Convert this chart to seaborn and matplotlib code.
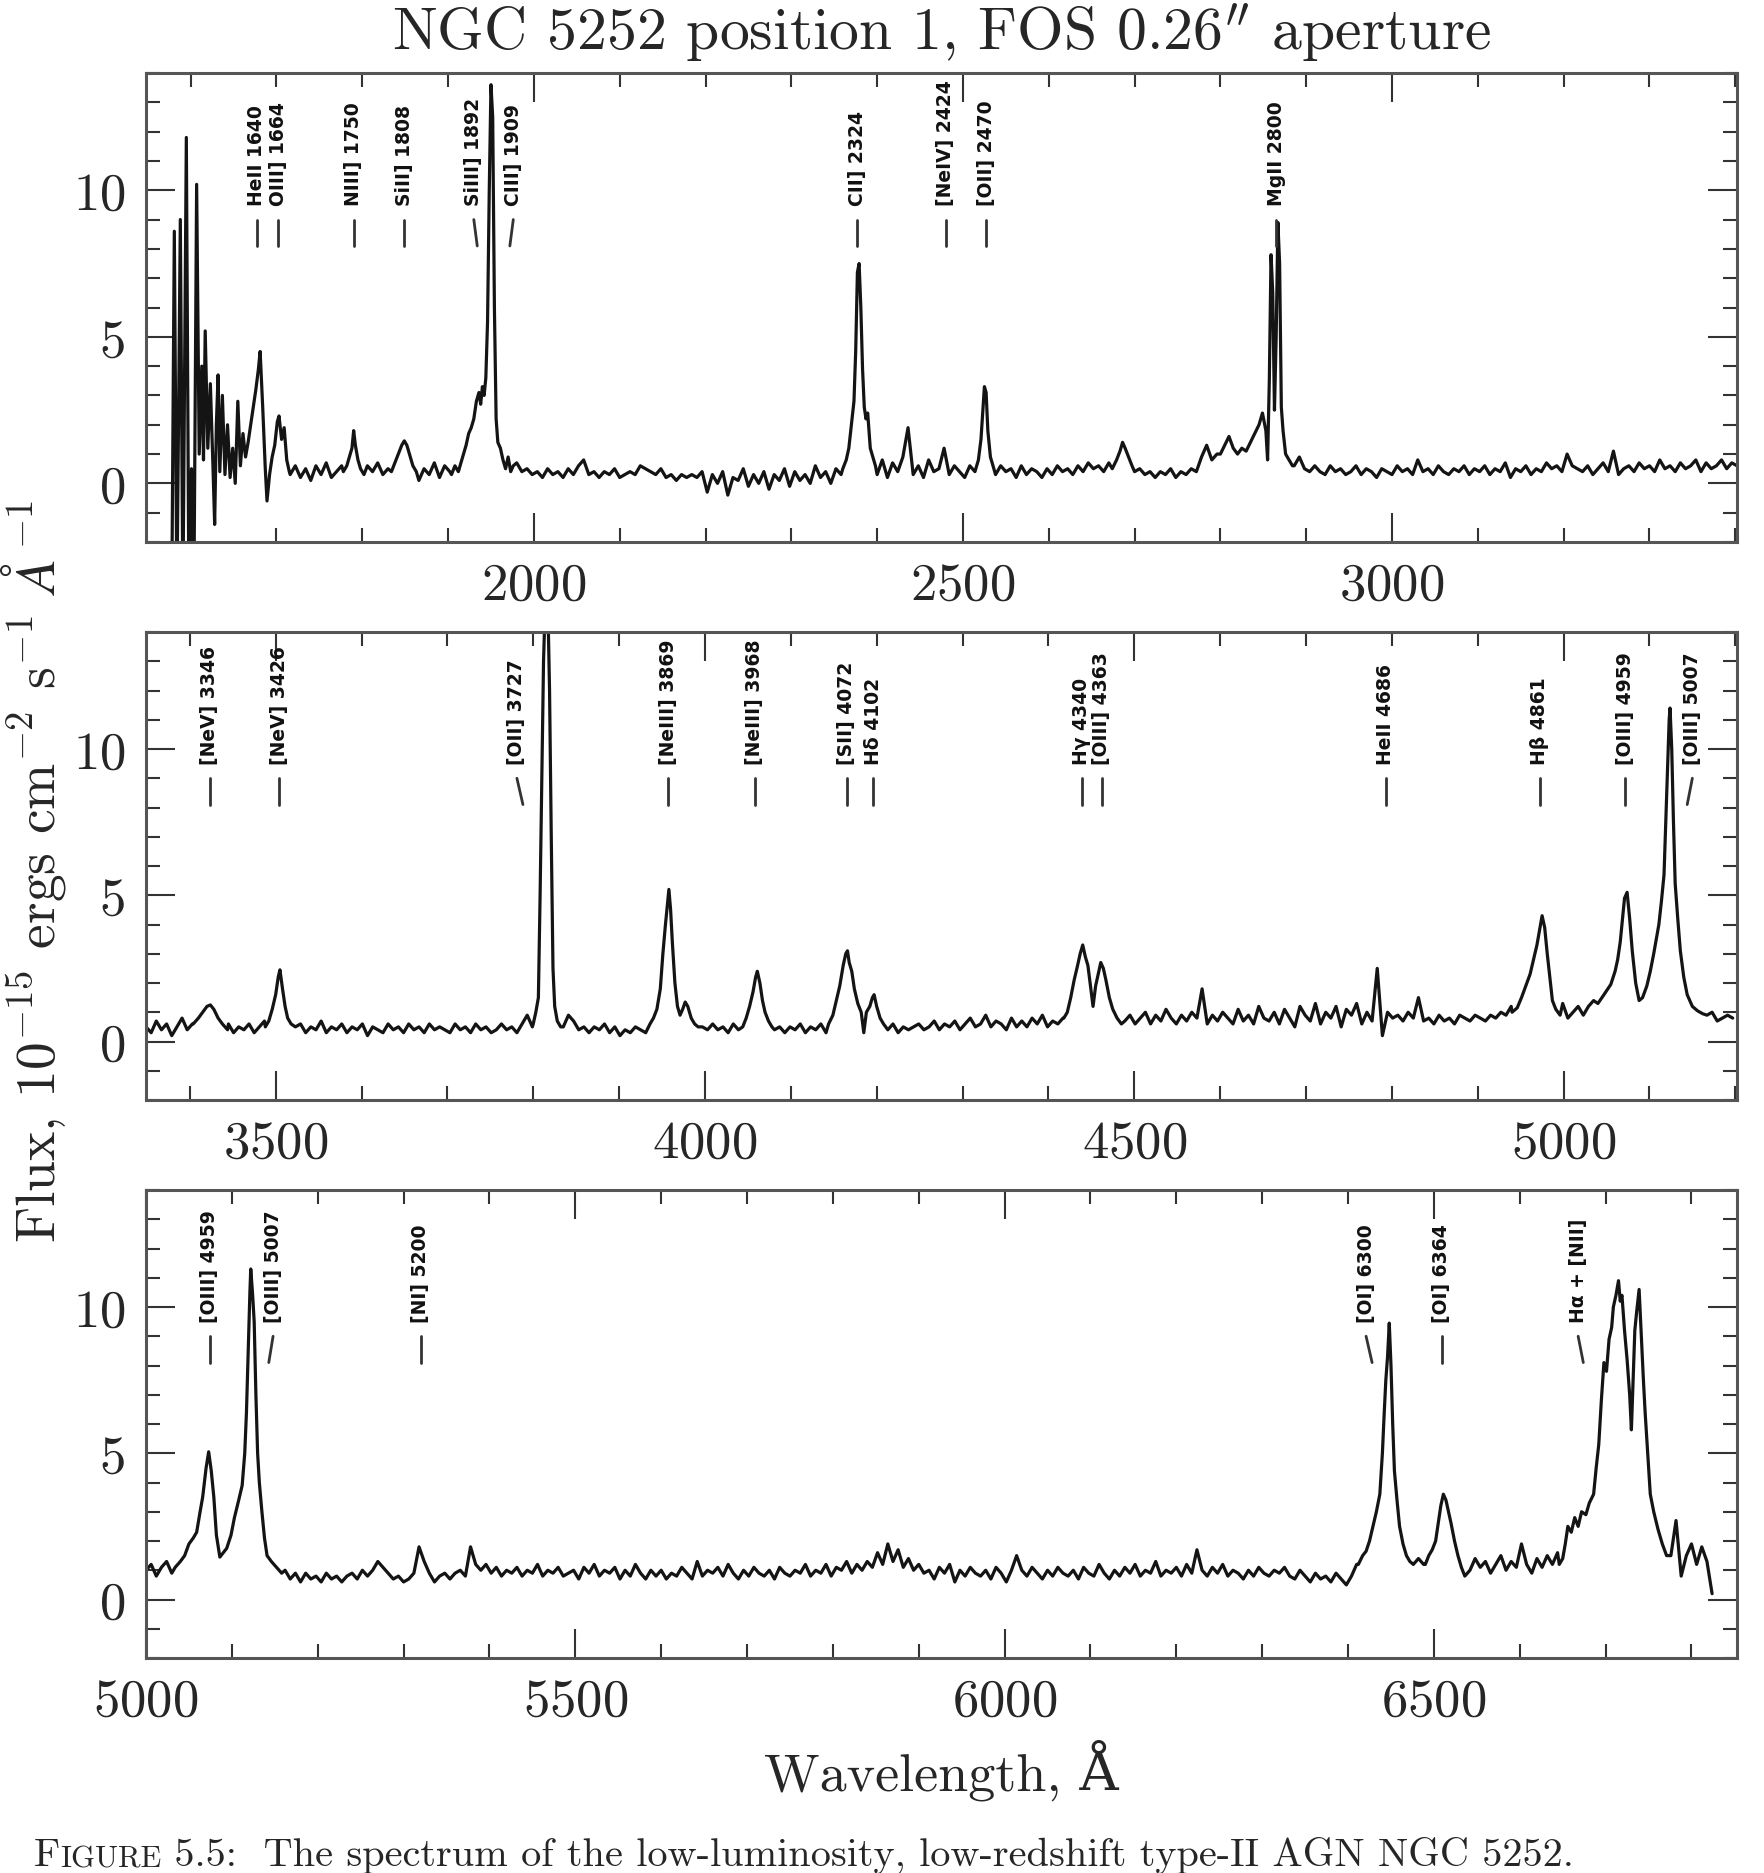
import numpy as np
import seaborn as sns
import matplotlib.pyplot as plt
from matplotlib.ticker import MultipleLocator

# ---------------- panel 1 : 1548 - 3402 A (observed wavelength) ----------------
p1_start, p1_step = 1716, 6
p1_cont = [
    0.3, 0.6, 0.2, 0.5, 0.1, 0.6, 0.3, 0.7, 0.2, 0.4,
    0.6, 0.3, 0.9, 0.5, 0.2, 0.6, 0.4, 0.7, 0.3, 0.5,
    0.4, 0.8, 0.5, 0.2, 0.6, 0.1, 0.5, 0.3, 0.7, 0.2,
    0.6, 0.4, 0.9, 1.2, 1.5, 2.0, 3.0, 3.2, 4.0, 13.0,
    2.0, 1.2, 0.8, 0.6, 0.7, 0.4, 0.5, 0.3, 0.4, 0.2,
    0.5, 0.3, 0.4, 0.2, 0.5, 0.3, 0.6, 0.8, 0.3, 0.4,
    0.2, 0.4, 0.3, 0.5, 0.2, 0.3, 0.4, 0.3, 0.6, 0.5,
    0.4, 0.3, 0.5, 0.2, 0.3, 0.1, 0.3, 0.2, 0.3, 0.2,
    0.4, -0.3, 0.3, 0.0, 0.4, -0.4, 0.2, 0.1, 0.5, -0.1,
    0.3, 0.0, 0.4, -0.2, 0.3, 0.1, 0.5, -0.1, 0.4, 0.1,
    0.3, 0.0, 0.6, 0.2, 0.4, 0.0, 0.5, 0.3, 0.9, 1.0,
    7.0, 2.0, 1.0, 0.6, 0.3, 0.8, 0.2, 0.7, 0.4, 0.9,
    1.9, 0.3, 0.6, 0.2, 0.8, 0.4, 0.5, 1.2, 0.3, 0.6,
    0.4, 0.2, 0.6, 1.0, 3.0, 1.0, 0.5, 0.3, 0.6, 0.4,
    0.5, 0.2, 0.6, 0.3, 0.5, 0.4, 0.2, 0.5, 0.3, 0.6,
    0.4, 0.5, 0.3, 0.6, 0.4, 0.7, 0.5, 0.6, 0.4, 0.7,
    0.9, 1.4, 1.0, 0.6, 0.4, 0.5, 0.3, 0.4, 0.2, 0.4,
    0.3, 0.5, 0.2, 0.4, 0.3, 0.5, 0.4, 0.9, 1.3, 0.8,
    1.0, 0.7, 1.1, 0.9, 1.3, 1.0, 1.5, 1.8, 2.3, 7.8,
    8.0, 8.8, 2.5, 1.0, 0.8, 0.6, 0.9, 0.5, 0.4, 0.6,
    0.4, 0.3, 0.6, 0.4, 0.5, 0.3, 0.4, 0.6, 0.3, 0.5,
    0.4, 0.2, 0.5, 0.4, 0.3, 0.6, 0.4, 0.5, 0.3, 0.8,
    0.4, 0.5, 0.3, 0.6, 0.4, 0.3, 0.5, 0.4, 0.6, 0.3,
    0.5, 0.4, 0.6, 0.3, 0.5, 0.4, 0.7, 0.2, 0.5, 0.4,
    0.6, 0.3, 0.5, 0.4, 0.7, 0.5, 0.6, 0.4, 1.0, 0.6,
    0.5, 0.4, 0.6, 0.3, 0.5, 0.7, 0.4, 1.1, 0.3, 0.5,
    0.6, 0.4, 0.7, 0.5, 0.6, 0.4, 0.8, 0.5, 0.6, 0.4,
    0.7, 0.5, 0.6, 0.8, 0.4, 0.7, 0.5, 0.6, 0.8, 0.5,
    0.7, 0.6,
]
p1_blue_end = [
    (1578, -4.0), (1581, 8.6), (1584, -4.0), (1588, 9.0), (1591, -4.0), (1595, 11.8),
    (1598, -4.0), (1601, 0.5), (1604, -3.0), (1607, 10.2), (1610, 1.0), (1613, 4.0),
    (1615, 0.8), (1617, 5.2), (1620, 1.2), (1623, 3.4), (1626, 0.6), (1628, -1.4),
    (1630, 2.0), (1632, 3.7), (1634, 0.4), (1637, 3.0), (1640, 0.3), (1643, 2.0),
    (1646, 0.2), (1649, 1.2), (1652, 0.0), (1655, 2.8), (1658, 0.6), (1661, 1.7),
    (1664, 0.9), (1667, 1.4), (1670, 2.0), (1673, 2.6), (1676, 3.2), (1679, 3.9),
    (1681, 4.5), (1684, 2.6), (1687, 0.5), (1689, -0.6), (1692, 0.3), (1695, 0.9),
    (1698, 1.3), (1701, 2.1), (1703, 2.3), (1706, 1.5), (1709, 1.9), (1712, 0.8),
    (1715, 0.4),
]
p1_niii = [(1778, 0.4), (1782, 0.6), (1785, 0.9), (1788, 1.2), (1790, 1.8), (1792, 1.3),
           (1795, 0.8), (1798, 0.5), (1802, 0.3)]
p1_siii = [(1834, 0.4), (1838, 0.7), (1842, 1.0), (1846, 1.3), (1849, 1.45), (1852, 1.3),
           (1855, 1.0), (1859, 0.6), (1863, 0.4)]
p1_ciii = [(1904, 0.3), (1908, 0.6), (1912, 0.4), (1915, 0.7), (1918, 1.0), (1921, 1.3),
           (1924, 1.7), (1927, 1.9), (1930, 2.2), (1933, 2.8), (1936, 3.1), (1938, 2.7),
           (1940, 3.3), (1942, 3.0), (1944, 3.6), (1946, 5.5), (1948, 10.0), (1950, 13.6),
           (1952, 12.5), (1954, 6.0), (1956, 2.2), (1958, 1.4), (1961, 1.2), (1964, 0.8),
           (1967, 0.5), (1970, 0.9), (1973, 0.4), (1976, 0.6)]
p1_cii = [(2360, 0.5), (2364, 0.8), (2367, 1.2), (2370, 2.0), (2373, 2.8), (2375, 4.5),
          (2377, 7.2), (2379, 7.5), (2381, 6.0), (2383, 3.9), (2385, 2.6), (2387, 2.2),
          (2389, 2.4), (2392, 1.2), (2395, 0.9), (2398, 0.6)]
p1_oii = [(2514, 0.4), (2518, 0.8), (2521, 1.5), (2523, 2.4), (2525, 3.3), (2527, 3.1),
          (2529, 1.8), (2532, 0.9), (2536, 0.5)]
p1_bump = [(2674, 0.5), (2679, 0.8), (2683, 1.1), (2686, 1.4), (2689, 1.2), (2693, 0.9),
           (2697, 0.6)]
p1_mgii = [(2800, 1.0), (2805, 1.3), (2810, 1.6), (2815, 1.2), (2820, 1.0), (2825, 1.2),
           (2830, 1.1), (2835, 1.4), (2840, 1.7), (2845, 2.0), (2849, 2.4), (2853, 1.8),
           (2855, 0.8), (2857, 3.5), (2859, 7.8), (2861, 6.5), (2863, 2.5), (2865, 5.0),
           (2867, 8.9), (2869, 7.5), (2871, 2.6), (2873, 1.8), (2876, 1.0), (2880, 0.8),
           (2884, 0.6)]

# ---------------- panel 2 : 3349 - 5202 A ----------------
p2_start, p2_step = 3349, 6
p2_cont = [
    0.5, 0.3, 0.7, 0.4, 0.6, 0.2, 0.5, 0.8, 0.4, 0.6,
    0.7, 0.9, 1.2, 1.1, 0.8, 0.5, 0.6, 0.3, 0.5, 0.4,
    0.6, 0.3, 0.5, 0.7, 1.0, 1.5, 2.4, 1.2, 0.7, 0.5,
    0.6, 0.3, 0.5, 0.4, 0.7, 0.3, 0.5, 0.4, 0.6, 0.3,
    0.5, 0.4, 0.6, 0.2, 0.5, 0.4, 0.3, 0.6, 0.4, 0.5,
    0.3, 0.6, 0.4, 0.5, 0.3, 0.6, 0.4, 0.5, 0.4, 0.3,
    0.6, 0.4, 0.5, 0.3, 0.6, 0.4, 0.5, 0.3, 0.4, 0.6,
    0.4, 0.5, 0.3, 0.6, 0.9, 0.5, 0.8, 9.0, 3.0, 1.0,
    0.6, 0.5, 0.9, 0.7, 0.4, 0.5, 0.3, 0.5, 0.4, 0.6,
    0.3, 0.5, 0.2, 0.4, 0.3, 0.5, 0.4, 0.3, 0.5, 0.7,
    1.5, 5.0, 1.5, 0.8, 1.2, 0.7, 0.5, 0.3, 0.5, 0.4,
    0.6, 0.4, 0.5, 0.3, 0.6, 0.4, 0.5, 0.8, 1.5, 2.3,
    1.0, 0.6, 0.4, 0.5, 0.3, 0.5, 0.4, 0.6, 0.3, 0.5,
    0.4, 0.6, 0.3, 0.5, 0.4, 0.8, 2.0, 2.8, 1.5, 1.0,
    0.9, 1.5, 0.8, 0.5, 0.4, 0.6, 0.3, 0.5, 0.4, 0.5,
    0.6, 0.4, 0.5, 0.7, 0.4, 0.6, 0.5, 0.7, 0.4, 0.6,
    0.8, 0.5, 0.6, 0.9, 0.5, 0.7, 0.6, 0.4, 0.8, 0.5,
    0.7, 0.5, 0.8, 0.6, 0.9, 0.5, 0.7, 0.6, 0.8, 1.2,
    2.5, 3.2, 1.5, 2.6, 1.8, 1.2, 0.9, 0.6, 0.8, 0.5,
    0.7, 0.9, 0.6, 0.8, 1.0, 0.6, 0.9, 0.7, 1.1, 0.8,
    0.6, 0.9, 0.7, 1.0, 0.8, 1.8, 0.6, 0.9, 0.7, 1.0,
    0.8, 0.6, 1.1, 0.7, 0.9, 0.6, 1.2, 0.8, 0.7, 1.0,
    0.6, 1.1, 0.8, 0.5, 1.2, 0.9, 0.7, 1.3, 0.6, 1.0,
    0.8, 1.2, 0.5, 1.1, 0.9, 1.3, 0.6, 1.0, 0.7, 2.5,
    0.2, 1.0, 0.8, 0.9, 0.7, 1.0, 0.8, 1.5, 0.7, 0.8,
    0.6, 0.9, 0.7, 0.8, 0.6, 0.9, 0.8, 0.7, 0.9, 0.8,
    0.7, 0.9, 0.8, 1.0, 0.9, 1.2, 1.1, 1.5, 2.5, 4.2,
    3.0, 1.8, 1.2, 0.9, 1.1, 1.3, 0.8, 1.0, 1.2, 0.9,
    1.2, 1.4, 1.6, 1.5, 2.0, 3.3, 5.0, 2.5, 1.3, 1.6,
    2.2, 3.0, 4.0, 5.6, 11.0, 5.3, 1.7, 1.3, 1.1, 0.9,
    1.0, 0.8, 0.7, 0.9, 1.0, 0.7, 0.8, 0.9, 0.8,
]
p2_nev_a = [(3404, 0.6), (3410, 0.8), (3415, 1.0), (3420, 1.2), (3424, 1.25), (3428, 1.1),
            (3433, 0.8), (3438, 0.6), (3444, 0.4)]
p2_nev_b = [(3488, 0.5), (3492, 0.7), (3496, 1.1), (3500, 1.6), (3503, 2.2), (3505, 2.45),
            (3508, 1.8), (3511, 1.2), (3514, 0.8), (3518, 0.6)]
p2_oii = [(3800, 0.6), (3803, 1.0), (3806, 1.5), (3808, 5.0), (3810, 9.0), (3812, 13.0),
          (3814, 15.0), (3817, 15.0), (3819, 12.0), (3821, 7.0), (3823, 2.5), (3825, 1.2),
          (3828, 0.7), (3832, 0.5)]
p2_neiii_a = [(3936, 0.6), (3940, 0.8), (3944, 1.1), (3948, 1.8), (3951, 3.0), (3954, 4.0),
              (3956, 4.6), (3958, 5.2), (3960, 4.5), (3962, 3.4), (3965, 2.0), (3968, 1.2),
              (3971, 0.9), (3974, 1.1), (3977, 1.35), (3980, 1.2), (3984, 0.8), (3988, 0.6),
              (3992, 0.5)]
p2_neiii_b = [(4044, 0.5), (4048, 0.8), (4052, 1.2), (4056, 1.7), (4059, 2.2), (4061, 2.4),
              (4064, 2.0), (4067, 1.4), (4070, 1.0), (4074, 0.7), (4078, 0.5)]
p2_sii_hd = [(4144, 0.6), (4149, 0.9), (4153, 1.4), (4157, 1.9), (4161, 2.6), (4164, 3.0),
             (4166, 3.1), (4168, 2.7), (4171, 2.4), (4174, 1.8), (4178, 1.3), (4182, 1.0),
             (4185, 0.3), (4188, 1.0), (4192, 1.2), (4195, 1.5), (4197, 1.6), (4200, 1.2),
             (4204, 0.8), (4208, 0.6), (4213, 0.4)]
p2_hg_oiii = [(4418, 0.8), (4422, 1.0), (4426, 1.5), (4430, 2.1), (4434, 2.6), (4437, 3.0),
              (4440, 3.3), (4443, 2.9), (4446, 2.6), (4449, 1.9), (4452, 1.2), (4455, 1.9),
              (4458, 2.3), (4461, 2.7), (4464, 2.5), (4467, 2.1), (4471, 1.5), (4475, 1.1),
              (4480, 0.8), (4485, 0.6)]
p2_hb = [(4940, 1.0), (4946, 1.15), (4951, 1.5), (4956, 1.9), (4961, 2.3), (4965, 2.8),
         (4969, 3.3), (4972, 3.8), (4975, 4.3), (4978, 3.9), (4981, 3.0), (4984, 2.2),
         (4987, 1.4), (4991, 1.1), (4996, 0.9)]
p2_oiii = [(5040, 1.3), (5047, 1.6), (5055, 1.95), (5060, 2.4), (5063, 2.8), (5066, 3.4),
           (5069, 4.3), (5071, 4.9), (5074, 5.1), (5077, 4.2), (5080, 3.1), (5084, 2.0),
           (5088, 1.4), (5092, 1.5), (5097, 1.9), (5101, 2.4), (5105, 3.0), (5108, 3.5),
           (5111, 4.0), (5114, 4.8), (5117, 5.7), (5119, 7.5), (5121, 9.4), (5123, 11.0),
           (5124, 11.4), (5126, 10.0), (5128, 7.5), (5130, 5.4), (5133, 4.2), (5136, 3.1),
           (5140, 2.2), (5144, 1.6), (5150, 1.2), (5156, 1.05), (5162, 0.95)]

# ---------------- panel 3 : 5000 - 6853 A ----------------
p3_start, p3_step = 5000, 6
p3_cont = [
    1.0, 1.2, 0.8, 1.1, 1.3, 0.9, 1.2, 1.0, 1.4, 1.6,
    2.5, 3.5, 5.0, 2.0, 1.5, 2.0, 3.0, 4.0, 5.0, 11.0,
    11.0, 5.0, 1.9, 1.4, 1.1, 0.9, 0.8, 1.0, 0.7, 0.9,
    0.6, 0.9, 0.7, 0.8, 0.6, 0.9, 0.7, 0.8, 0.6, 0.8,
    0.9, 0.7, 1.0, 0.8, 1.0, 1.3, 1.1, 0.9, 0.7, 0.8,
    0.6, 0.7, 0.9, 1.8, 1.3, 0.9, 0.6, 0.8, 0.9, 0.7,
    0.9, 1.0, 0.8, 1.8, 1.2, 1.0, 1.2, 0.9, 1.1, 0.8,
    1.0, 0.9, 1.1, 0.8, 1.0, 0.9, 1.2, 0.8, 1.0, 0.9,
    1.1, 0.8, 0.9, 1.0, 0.7, 1.1, 0.9, 1.2, 0.8, 1.0,
    0.9, 1.1, 0.7, 1.0, 0.8, 1.2, 0.9, 0.7, 1.0, 0.8,
    1.0, 0.7, 0.9, 0.8, 1.1, 0.9, 0.7, 1.3, 0.8, 1.0,
    0.9, 1.1, 0.8, 1.2, 0.9, 0.7, 1.0, 0.8, 1.1, 0.9,
    0.8, 1.0, 0.7, 1.1, 0.9, 0.8, 1.0, 0.9, 1.2, 0.8,
    1.0, 0.9, 1.2, 0.8, 1.1, 1.0, 1.3, 0.9, 1.2, 1.0,
    1.3, 1.1, 1.6, 1.2, 1.9, 1.3, 1.7, 1.1, 1.4, 1.0,
    1.2, 0.9, 1.0, 0.7, 1.1, 0.9, 1.2, 0.6, 1.0, 0.8,
    1.1, 0.9, 0.8, 1.0, 0.7, 1.1, 0.9, 0.6, 1.0, 1.5,
    1.0, 0.8, 1.1, 0.9, 0.7, 1.0, 0.8, 1.1, 0.9, 0.8,
    1.0, 0.7, 1.1, 0.9, 0.8, 1.2, 0.9, 0.7, 1.0, 0.8,
    1.1, 0.9, 1.2, 0.8, 1.0, 0.9, 1.3, 0.8, 1.0, 0.9,
    1.1, 0.8, 1.2, 0.9, 1.7, 1.0, 0.8, 1.1, 0.9, 1.2,
    0.8, 1.0, 0.9, 0.7, 1.0, 0.8, 1.1, 0.9, 0.8, 1.0,
    0.9, 1.1, 0.8, 0.7, 1.0, 0.8, 0.6, 0.9, 0.7, 0.8,
    0.6, 0.9, 0.7, 0.5, 0.8, 1.2, 1.6, 1.2, 1.6, 3.5,
    6.0, 9.0, 5.0, 2.5, 1.6, 1.3, 1.1, 1.4, 1.2, 1.5,
    2.0, 3.5, 2.6, 1.6, 1.2, 0.8, 1.3, 1.0, 1.4, 1.1,
    1.3, 0.9, 1.2, 1.5, 1.0, 1.3, 1.1, 1.9, 1.2, 0.9,
    1.4, 1.1, 1.5, 1.2, 1.6, 1.3, 2.2, 2.6, 2.7, 3.0,
    3.5, 5.0, 8.0, 9.5, 10.9, 9.0, 6.0, 10.0, 10.5, 6.0,
    3.5, 2.5, 2.0, 1.4, 1.8, 2.3, 1.5, 2.7, 0.8, 1.5,
    1.9, 1.2, 1.8, 1.3, 0.2,
]
p3_oiii = [(5034, 1.1), (5040, 1.3), (5045, 1.5), (5050, 1.9), (5055, 2.1), (5059, 2.3),
           (5063, 3.0), (5066, 3.5), (5070, 4.5), (5073, 5.05), (5076, 4.4), (5079, 3.5),
           (5082, 2.2), (5086, 1.45), (5090, 1.6), (5094, 1.75), (5099, 2.2), (5103, 2.8),
           (5108, 3.4), (5112, 3.9), (5115, 5.0), (5117, 6.4), (5119, 8.5), (5121, 10.5),
           (5122, 11.3), (5124, 10.5), (5126, 9.5), (5128, 7.0), (5130, 5.0), (5132, 4.0),
           (5135, 3.0), (5138, 2.1), (5141, 1.5), (5146, 1.3), (5152, 1.1), (5158, 0.9)]
p3_oi_a = [(6412, 1.2), (6417, 1.5), (6421, 1.65), (6425, 2.0), (6429, 2.5), (6433, 3.0),
           (6437, 3.6), (6440, 5.0), (6442, 6.3), (6444, 7.5), (6446, 8.3), (6448, 9.45),
           (6450, 8.0), (6452, 6.0), (6454, 4.4), (6457, 3.4), (6460, 2.5), (6464, 1.9),
           (6468, 1.5), (6472, 1.3), (6476, 1.2)]
p3_oi_b = [(6490, 1.2), (6494, 1.5), (6498, 1.7), (6502, 2.0), (6505, 2.6), (6508, 3.2),
           (6511, 3.6), (6514, 3.4), (6517, 3.0), (6520, 2.6), (6524, 2.0), (6528, 1.5),
           (6532, 1.1), (6536, 0.8)]
p3_halpha = [(6646, 1.2), (6650, 1.4), (6653, 1.9), (6656, 2.5), (6660, 2.3), (6664, 2.8),
             (6668, 2.5), (6672, 3.0), (6677, 2.9), (6681, 3.3), (6686, 3.6), (6689, 4.5),
             (6692, 5.3), (6695, 6.8), (6698, 8.1), (6701, 7.8), (6704, 8.9), (6707, 9.3),
             (6709, 10.0), (6712, 10.4), (6715, 10.9), (6717, 10.2), (6719, 10.4), (6722, 9.2),
             (6725, 8.2), (6728, 7.0), (6730, 5.8), (6732, 7.5), (6734, 9.2), (6736, 9.8),
             (6739, 10.6), (6742, 8.7), (6744, 7.5), (6746, 6.4), (6749, 5.0), (6752, 3.6),
             (6756, 3.0), (6761, 2.4), (6766, 1.9), (6771, 1.5)]

# ---------------- line identifications ----------------
p1_names = ['HeII 1640', 'OIII] 1664', 'NIII] 1750', 'SiII] 1808', 'SiIII] 1892',
            'CIII] 1909', 'CII] 2324', '[NeIV] 2424', '[OII] 2470', 'MgII 2800']
p1_tick_bot = [1677, 1702, 1790, 1849, 1934, 1972, 2377, 2480, 2527, 2865]
p1_tick_top = [1677, 1702, 1790, 1849, 1930, 1976, 2377, 2480, 2527, 2865]

p2_names = ['[NeV] 3346', '[NeV] 3426', '[OII] 3727', '[NeIII] 3869', '[NeIII] 3968',
            '[SII] 4072', 'Hδ 4102', 'Hγ 4340', '[OIII] 4363', 'HeII 4686', 'Hβ 4861',
            '[OIII] 4959', '[OIII] 5007']
p2_tick_bot = [3423, 3504, 3788, 3957, 4058, 4165, 4196, 4439, 4462, 4793, 4972, 5072, 5144]
p2_tick_top = [3423, 3504, 3781, 3957, 4058, 4165, 4196, 4439, 4462, 4793, 4972, 5072, 5150]

p3_names = ['[OIII] 4959', '[OIII] 5007', '[NI] 5200', '[OI] 6300', '[OI] 6364', 'Hα + [NII]']
p3_tick_bot = [5074, 5143, 5320, 6428, 6509, 6674]
p3_tick_top = [5074, 5148, 5320, 6421, 6509, 6668]

panel_xlim = [(1548, 3402), (3349, 5202), (5000, 6853)]


def build_spectrum(start, step, cont, segments):
    # continuum samples, with the line profiles put in place of the samples they cover
    wl = start + step * np.arange(len(cont))
    fl = np.array(cont, dtype=float)
    keep = np.ones(len(wl), dtype=bool)
    xs, ys = [], []
    for seg in segments:
        sw = np.array([p[0] for p in seg], dtype=float)
        sf = np.array([p[1] for p in seg], dtype=float)
        keep &= ~((wl >= sw.min()) & (wl <= sw.max()))
        xs.append(sw)
        ys.append(sf)
    x = np.concatenate([wl[keep]] + xs)
    y = np.concatenate([fl[keep]] + ys)
    order = np.argsort(x, kind='stable')
    return x[order], y[order]


spectra = [
    build_spectrum(p1_start, p1_step, p1_cont,
                   [p1_blue_end, p1_niii, p1_siii, p1_ciii, p1_cii, p1_oii, p1_bump, p1_mgii]),
    build_spectrum(p2_start, p2_step, p2_cont,
                   [p2_nev_a, p2_nev_b, p2_oii, p2_neiii_a, p2_neiii_b, p2_sii_hd,
                    p2_hg_oiii, p2_hb, p2_oiii]),
    build_spectrum(p3_start, p3_step, p3_cont, [p3_oiii, p3_oi_a, p3_oi_b, p3_halpha]),
]
labels = [(p1_names, p1_tick_bot, p1_tick_top),
          (p2_names, p2_tick_bot, p2_tick_top),
          (p3_names, p3_tick_bot, p3_tick_top)]

sns.set_style('ticks')
plt.rcParams['font.family'] = ['cmr10', 'DejaVu Serif']
plt.rcParams['mathtext.fontset'] = 'cm'
plt.rcParams['axes.formatter.use_mathtext'] = True
plt.rcParams['xtick.direction'] = 'in'
plt.rcParams['ytick.direction'] = 'in'
plt.rcParams['xtick.top'] = True
plt.rcParams['ytick.right'] = True

fig = plt.figure(figsize=(17.64, 18.74), dpi=100)
left, width = 146 / 1764, (1737 - 146) / 1764
panel_box = [(74, 543), (633, 1101), (1191, 1659)]

for k, (top_px, bot_px) in enumerate(panel_box):
    ax = fig.add_axes([left, 1 - bot_px / 1874, width, (bot_px - top_px) / 1874])
    x, y = spectra[k]
    sns.lineplot(x=x, y=y, ax=ax, color='#141414', linewidth=2.3,
                 estimator=None, legend=False)
    ax.set_xlim(*panel_xlim[k])
    ax.set_ylim(-2, 14)
    ax.set_xlabel('')
    ax.set_ylabel('')
    ax.xaxis.set_major_locator(MultipleLocator(500))
    ax.xaxis.set_minor_locator(MultipleLocator(100))
    ax.set_yticks([0, 5, 10])
    ax.yaxis.set_minor_locator(MultipleLocator(1))
    ax.tick_params(which='major', length=21, width=1.5, color='#333333',
                   labelsize=38, pad=15)
    ax.tick_params(which='minor', length=10, width=1.5, color='#333333')
    ax.tick_params(axis='x', which='major', pad=14)
    for sp in ax.spines.values():
        sp.set_linewidth(2.2)
        sp.set_color('#555555')

    names, bots, tops = labels[k]
    for name, xb, xt in zip(names, bots, tops):
        ax.plot([xb, xt], [8.1, 9.0], color='#333333', linewidth=2.0)
        ax.text(xt, 9.5, name, rotation=90, ha='center', va='bottom',
                fontsize=13.5, fontweight='bold', family='DejaVu Sans', color='#111111')

fig.text(left + width / 2, 0.9824, r"NGC 5252 position 1, FOS 0.26$^{\prime\prime}$ aperture",
         ha='center', va='center', fontsize=43)
fig.text(left + width / 2, 0.0555, 'Wavelength, Å', ha='center', va='center', fontsize=39)
fig.text(0.019, 0.535, r'Flux, 10$^{-15}$ ergs cm$^{-2}$ s$^{-1}$ $\AA^{-1}$',
         rotation=90, ha='center', va='center', fontsize=40)

cap1 = fig.text(0.019, 0.0, 'F', fontsize=29, va='bottom')
cap2 = fig.axes[-1].annotate('IGURE', xy=(1, 0), xycoords=cap1, va='bottom', fontsize=22,
                             annotation_clip=False)
fig.axes[-1].annotate(' 5.5:  The spectrum of the low-luminosity, low-redshift type-II AGN NGC 5252.',
                      xy=(1, 0), xycoords=cap2, va='bottom', fontsize=29,
                      annotation_clip=False)

fig.savefig('out.png', dpi=100, facecolor='white')
